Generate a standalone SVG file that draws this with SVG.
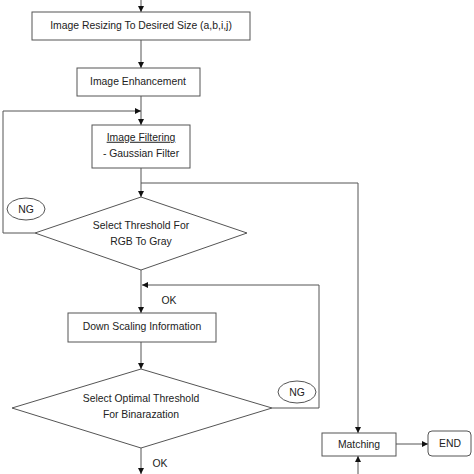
<svg xmlns="http://www.w3.org/2000/svg" width="474" height="474" viewBox="0 0 474 474">
<defs>
<marker id="ah" viewBox="0 0 10 10" refX="10" refY="5" markerWidth="6" markerHeight="6" markerUnits="userSpaceOnUse" orient="auto">
<path d="M0,0 L10,5 L0,10 z" fill="#111"/>
</marker>
</defs>
<style>
.b{fill:#fff;stroke:#555;stroke-width:1}
.c{fill:none;stroke:#555;stroke-width:1}
.t{font-family:"Liberation Sans",Arial,sans-serif;font-size:10.4px;fill:#222;text-anchor:middle;dominant-baseline:middle}
</style>
<rect width="474" height="474" fill="#fff"/>
<g id="connectors">
<path class="c" d="M141,0 V12" marker-end="url(#ah)"/>
<path class="c" d="M141,40 V68" marker-end="url(#ah)"/>
<path class="c" d="M141,96 V125" marker-end="url(#ah)"/>
<path class="c" d="M141,168 V197" marker-end="url(#ah)"/>
<path class="c" d="M35,233 H3 V111 H141" marker-end="url(#ah)"/>
<path class="c" d="M141,183 H358 V433" marker-end="url(#ah)"/>
<path class="c" d="M141,270 V313" marker-end="url(#ah)"/>
<path class="c" d="M272,408 H319 V285 H142" marker-end="url(#ah)"/>
<path class="c" d="M141,342 V369" marker-end="url(#ah)"/>
<path class="c" d="M141,448 V474" marker-end="url(#ah)"/>
<path class="c" d="M358,474 V456" marker-end="url(#ah)"/>
<path class="c" d="M396,444 H428" marker-end="url(#ah)"/>
<text class="t" x="169" y="301">OK</text>
<text class="t" x="160" y="464">OK</text>
</g>
<g id="resize">
<rect class="b" x="32" y="12" width="218" height="28"/>
<text class="t" x="141" y="26">Image Resizing To Desired Size (a,b,i,j)</text>
</g>
<g id="enhance">
<rect class="b" x="77" y="68" width="123" height="28"/>
<text class="t" x="138" y="82">Image Enhancement</text>
</g>
<g id="filter">
<rect class="b" x="92" y="125" width="98" height="43"/>
<text class="t" x="141" y="138" text-decoration="underline">Image Filtering</text>
<text class="t" x="141" y="154">- Gaussian Filter</text>
</g>
<g id="rgb">
<polygon class="b" points="141,197 247,233 141,270 35,233"/>
<text class="t" x="141" y="226">Select Threshold For</text>
<text class="t" x="141" y="242">RGB To Gray</text>
</g>
<g id="ng1">
<ellipse class="b" cx="26" cy="209" rx="19" ry="11"/>
<text class="t" x="26" y="210">NG</text>
</g>
<g id="down">
<rect class="b" x="68" y="313" width="148" height="29"/>
<text class="t" x="142" y="327">Down Scaling Information</text>
</g>
<g id="optimal">
<polygon class="b" points="141,369 272,408 141,448 12,408"/>
<text class="t" x="141" y="399">Select Optimal Threshold</text>
<text class="t" x="141" y="415">For Binarazation</text>
</g>
<g id="ng2">
<ellipse class="b" cx="297" cy="392" rx="19" ry="11"/>
<text class="t" x="297" y="393">NG</text>
</g>
<g id="matching">
<rect class="b" x="322" y="433" width="74" height="23"/>
<text class="t" x="359" y="445">Matching</text>
</g>
<g id="end">
<rect class="b" x="428" y="431" width="43" height="25" rx="4"/>
<text class="t" x="450" y="444">END</text>
</g>
</svg>
